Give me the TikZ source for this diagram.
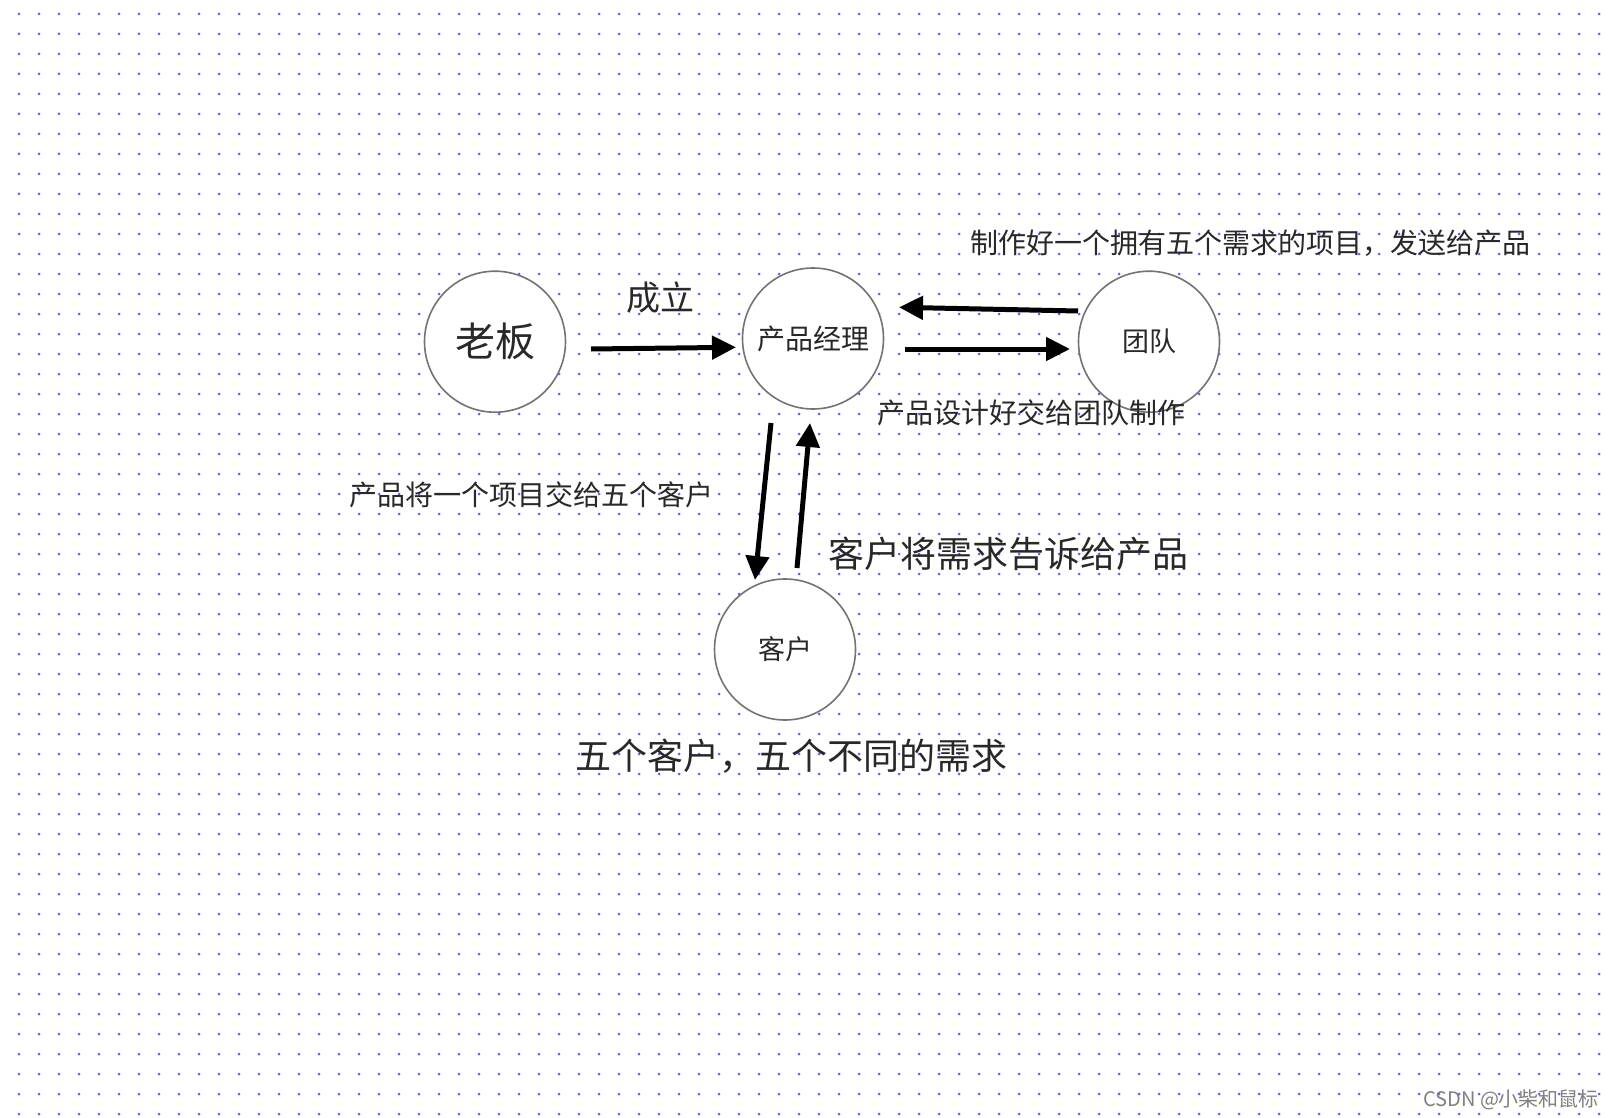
\documentclass[tikz,border=0pt]{standalone}
\usepackage{fontspec}
\setmainfont{Noto Sans CJK SC}
\usetikzlibrary{arrows.meta}
\definecolor{dotc}{RGB}{95,95,250}
\definecolor{ringc}{RGB}{115,115,115}
\definecolor{txtc}{RGB}{40,40,40}
\tikzset{
  actor/.style={circle, draw=ringc, line width=1.6pt, fill=white, minimum size=141pt, inner sep=0pt, text=txtc},
  flow/.style={line width=5pt, -{Triangle[length=24pt,width=23pt]}},
  note/.style={text=txtc, inner sep=0pt},
}
\newcommand{\fsz}[1]{\fontsize{#1}{#1}\selectfont}
\begin{document}
\begin{tikzpicture}[x=1pt,y=-1pt]
\useasboundingbox (0,0) rectangle (1609,1118);
\fill[white] (0,0) rectangle (1609,1118);
\foreach \i in {0,...,79}{
  \foreach \j in {0,...,55}{
    \fill[dotc] ({19+20*\i},{14+20*\j}) circle (1.5pt);
  }
}
\node[actor, font=\fsz{40}] (boss) at (495,341.7) {老板};
\node[actor, font=\fsz{28}] (pm) at (813,338.5) {产品经理};
\node[actor, font=\fsz{27}] (team) at (1149,341.7) {团队};
\node[actor, font=\fsz{27}] (cust) at (785,649.5) {客户};

\coordinate (a1s) at (591,349);  \coordinate (a1e) at (736,347.3);
\coordinate (a2s) at (1078,311); \coordinate (a2e) at (899,307.3);
\coordinate (a3s) at (905,349);  \coordinate (a3e) at (1070,349);
\coordinate (a4s) at (771,423);  \coordinate (a4e) at (755,580);
\coordinate (a5s) at (797,568);  \coordinate (a5e) at (810,423);
\draw[flow] (a1s) -- (a1e);
\draw[flow] (a2s) -- (a2e);
\draw[flow] (a3s) -- (a3e);
\draw[flow] (a4s) -- (a4e);
\draw[flow] (a5s) -- (a5e);

\node[note, font=\fsz{34}] (t1) at (660,297.6) {成立};
\node[note, font=\fsz{28}, anchor=west] (t2) at (970,243) {制作好一个拥有五个需求的项目，发送给产品};
\node[note, font=\fsz{28}, anchor=west] (t3) at (877,412.5) {产品设计好交给团队制作};
\node[note, font=\fsz{28}, anchor=west] (t4) at (349,494.6) {产品将一个项目交给五个客户};
\node[note, font=\fsz{36}, anchor=west] (t5) at (828,554) {客户将需求告诉给产品};
\node[note, font=\fsz{36}, anchor=west] (t6) at (575,756) {五个客户，五个不同的需求};
\node[note, font=\fsz{20}, text=gray, anchor=west] (wm) at (1423,1100) {CSDN @小柴和鼠标};
\end{tikzpicture}
\end{document}
